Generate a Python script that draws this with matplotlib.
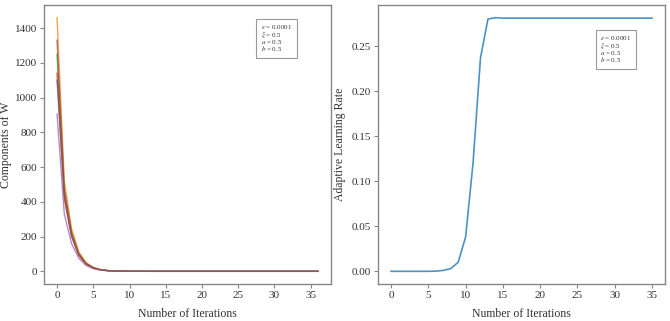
import numpy as np
import matplotlib
matplotlib.use('Agg')
import matplotlib.pyplot as plt

plt.rcParams['font.family'] = ['Liberation Serif', 'DejaVu Serif']
plt.rcParams['mathtext.fontset'] = 'stix'

# components of W per iteration (iterations 0..36)
iters_w = np.arange(37)
w_blue = [1100, 430, 205, 95, 43, 19, 9, 4, 2, 1, 0.5, 0.2, 0.1] + [0] * 24
w_orange = [1460, 520, 245, 112, 50, 23, 10, 5, 2, 1, 0.5, 0.2, 0.1] + [0] * 24
w_green = [1250, 455, 215, 98, 44, 20, 9, 4, 2, 1, 0.5, 0.2, 0.1] + [0] * 24
w_red = [1140, 420, 200, 92, 41, 18, 8, 4, 2, 1, 0.4, 0.2, 0.1] + [0] * 24
w_purple = [905, 330, 160, 75, 34, 15, 7, 3, 1.5, 0.7, 0.3, 0.1, 0] + [0] * 24
w_brown = [1330, 475, 225, 102, 46, 21, 9, 4, 2, 1, 0.5, 0.2, 0.1] + [0] * 24
w_series = [w_blue, w_orange, w_green, w_red, w_purple, w_brown]

# adaptive learning rate per iteration (0..35)
iters_lr = np.arange(36)
lr = [0, 0, 0, 0, 0, 0, 0.0002, 0.001, 0.003, 0.010, 0.038, 0.12, 0.237, 0.280, 0.2815] + [0.281] * 21

legend_text = ("$\\varepsilon$ = 0.0001\n$\\xi$ = 0.5\n$a$ = 0.5\n$b$ = 0.5")

fig = plt.figure(figsize=(6.7, 3.21), dpi=100)
ax1 = fig.add_axes([44 / 670, 1 - 284 / 321, 287 / 670, 279 / 321])
ax2 = fig.add_axes([378 / 670, 1 - 284 / 321, 287 / 670, 279 / 321])

colors = ['#1f77b4', '#ff7f0e', '#2ca02c', '#d62728', '#9467bd', '#8c564b']
for s, c in zip(w_series, colors):
    ax1.plot(iters_w, s, color=c, lw=1.0, alpha=0.75)

ax2.plot(iters_lr, lr, color='#1f77b4', lw=1.2, alpha=0.8)

for ax in (ax1, ax2):
    for sp in ax.spines.values():
        sp.set_color('#888888')
        sp.set_linewidth(1.0)
    ax.tick_params(labelsize=8, length=3, pad=2, color='#888888', labelcolor='#333333')
    ax.set_xlabel('Number of Iterations', fontsize=8.5, labelpad=6, color='#333333')
    ax.set_xticks(range(0, 36, 5))

ax1.set_ylabel('Components of W', fontsize=8.5, labelpad=2, color='#333333')
ax2.set_ylabel('Adaptive Learning Rate', fontsize=8.5, labelpad=4, color='#333333')

box = dict(boxstyle='square,pad=0.65', fc='white', ec='#999999', lw=0.8)
ax1.text(0.755, 0.935, legend_text, transform=ax1.transAxes, fontsize=5,
         va='top', ha='left', linespacing=0.72, bbox=box, color='#333333')
ax2.text(0.775, 0.895, legend_text, transform=ax2.transAxes, fontsize=5,
         va='top', ha='left', linespacing=0.72, bbox=box, color='#333333')

fig.savefig('out.png', dpi=100)
